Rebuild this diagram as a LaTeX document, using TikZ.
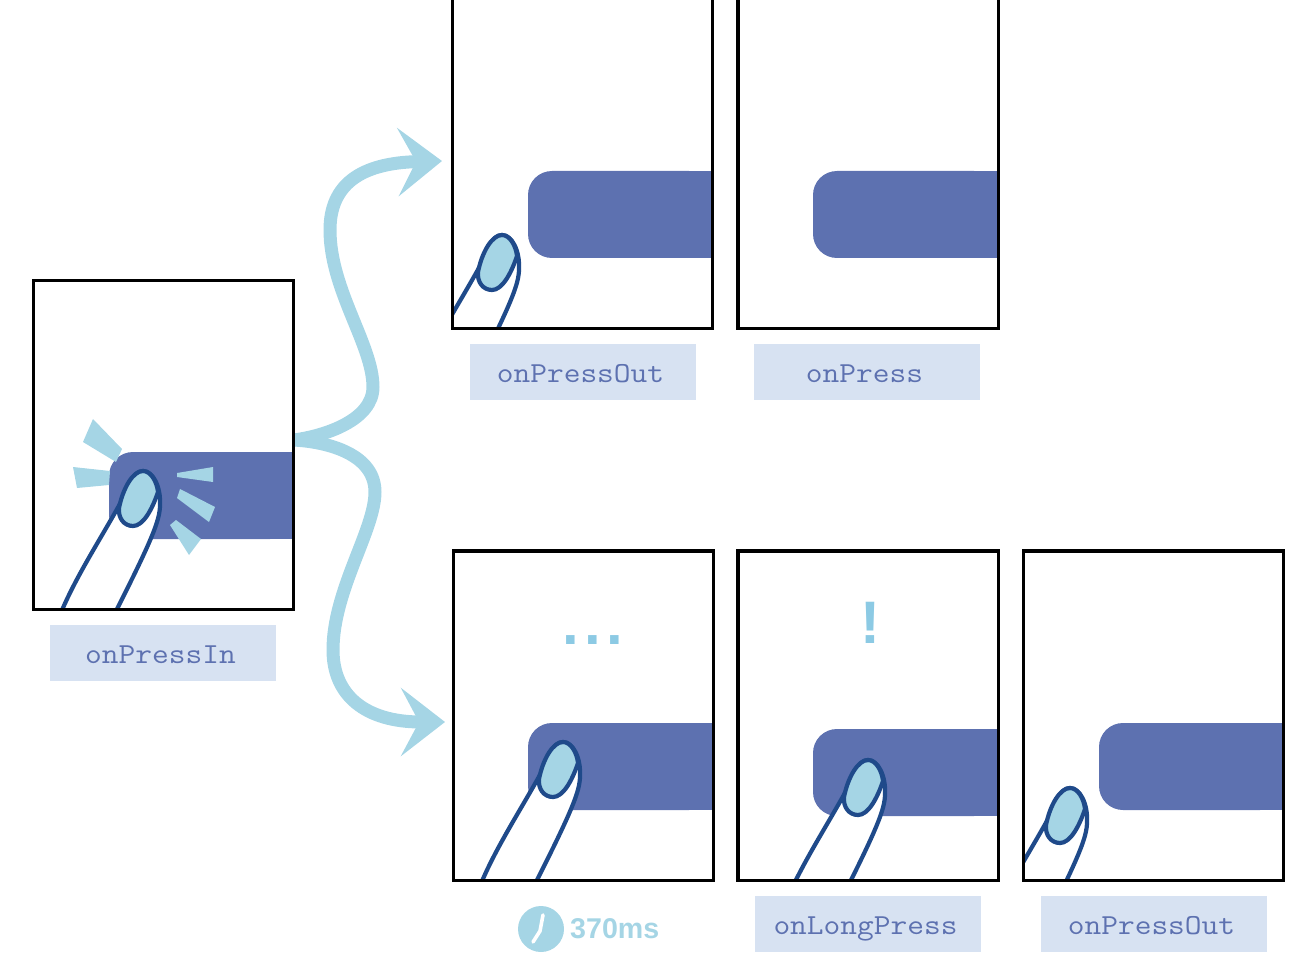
\documentclass[tikz,border=0pt]{standalone}
\usepackage{fontspec}
\setmainfont{Liberation Sans}
\setmonofont{Latin Modern Mono}[FakeStretch=1.12]
\usetikzlibrary{arrows.meta}
\definecolor{btnblue}{HTML}{5D71B0}
\definecolor{skyblue}{HTML}{A5D5E5}
\definecolor{markblue}{HTML}{8CCAE4}
\definecolor{tagblue}{HTML}{D7E2F2}
\definecolor{inkblue}{HTML}{1F4A8A}
\tikzset{
    screen/.style={minimum width=260pt, minimum height=329pt, inner sep=0pt},
    frameline/.style={draw=black, line width=3.4pt},
    tag/.style={fill=tagblue, text=btnblue, minimum width=226pt, minimum height=56pt, inner sep=0pt,
        text height=24pt, text depth=3pt, execute at end node={\hspace{5pt}},
        font=\fontsize{29}{29}\ttfamily},
    signmark/.style={text=markblue, inner sep=0pt, anchor=base, font=\bfseries\fontsize{60}{60}\selectfont},
    flow/.style={draw=skyblue, line width=13pt, -{Stealth[length=44pt,width=68pt,inset=18pt,sharp]}},
    ray/.style={fill=skyblue},
    outline/.style={draw=inkblue, line width=4.2pt, line join=round}
}
% button that runs to the right edge of a screen, x y = its top left corner
\newcommand{\btn}[2]{\fill[btnblue, rounded corners=24pt] (#1+185,#2) -- (#1,#2) -- (#1,#2+87) -- (#1+185,#2+87) -- cycle;
    \fill[btnblue] (#1+90,#2) rectangle (#1+185,#2+87);}
% finger, drawn for the tip at 143,471 and moved by the offset
\newcommand{\finger}[3]{\begin{scope}
    \clip (#1.south west) rectangle (#1.north east);
    \begin{scope}[shift={(#2,#3)}]
    \fill[white] (60,615) .. controls (75,578) and (100,540) .. (121,502)
        .. controls (128,482) and (135,471) .. (143,471)
        .. controls (153,471) and (161,487) .. (160,505)
        .. controls (160,520) and (152,540) .. (114,615) -- cycle;
    \draw[outline] (60,615) .. controls (75,578) and (100,540) .. (121,502)
        .. controls (128,482) and (135,471) .. (143,471)
        .. controls (153,471) and (161,487) .. (160,505)
        .. controls (160,520) and (152,540) .. (114,615);
    \draw[outline, fill=skyblue] (143,471) .. controls (151,471) and (157,482) .. (158,492)
        .. controls (152,510) and (143,526) .. (133,526)
        .. controls (124,526) and (118,518) .. (119,508)
        .. controls (123,488) and (133,471) .. (143,471) -- cycle;
    \end{scope}
\end{scope}}
\begin{document}
\begin{tikzpicture}[x=1pt,y=-1pt]
    \useasboundingbox (0,0) rectangle (1312,960);

    % buttons first, the screens go over them
    \btn{109}{452}
    \btn{528}{171}
    \btn{813}{171}
    \btn{528}{723}
    \btn{813}{729}
    \btn{1099}{723}

    \node[screen] (pressin) at (163.5,445) {};
    \node[screen] (pressout) at (582.5,163.5) {};
    \node[screen] (press) at (868,163.5) {};
    \node[screen] (wait) at (583.5,715.5) {};
    \node[screen] (longpress) at (868,715.5) {};
    \node[screen] (release) at (1153.5,715.5) {};

    % sparks round the touch
    \fill[ray] (93,419) -- (122,449) -- (116,462) -- (83,442) -- cycle;
    \fill[ray] (73,467) -- (110,471) -- (109,485) -- (77,488) -- cycle;
    \fill[ray] (177,473) -- (213,467) -- (213,482) -- (177,477) -- cycle;
    \fill[ray] (180,489) -- (215,507) -- (209,522) -- (177,498) -- cycle;
    \fill[ray] (176,520) -- (201,539) -- (189,555) -- (170,525) -- cycle;

    \finger{pressin}{0}{0}
    \finger{pressout}{359}{-236}
    \finger{wait}{420}{271}
    \finger{longpress}{725}{289}
    \finger{release}{927}{317}

    \coordinate (fork) at ([yshift=5pt]pressin.east);
    \coordinate (topend) at (442,161);
    \coordinate (lowend) at (445,722);
    \draw[flow] (fork) .. controls (325,436) and (373,420) .. (373,387)
        .. controls (373,345) and (330,290) .. (330,230)
        .. controls (330,185) and (360,163) .. (topend);
    \draw[flow] (fork) .. controls (330,442) and (375,455) .. (375,492)
        .. controls (375,530) and (333,590) .. (333,650)
        .. controls (333,695) and (365,722) .. (lowend);

    \foreach \s in {pressin,pressout,press,wait,longpress,release}
        \draw[frameline] (\s.south west) rectangle (\s.north east);

    \node[tag] (tagin) at (163,653) {onPressIn};
    \node[tag] (tagout) at (583,372) {onPressOut};
    \node[tag] (tagpress) at (867,372) {onPress};
    \node[tag] (taglong) at (868,924) {onLongPress};
    \node[tag] (tagrelease) at (1154,924) {onPressOut};

    \node[signmark] (dots) at (593,644) {.\hspace{5.3pt}.\hspace{5.3pt}.};
    \node[signmark] (bang) at (870,643.5) {!};

    % clock
    \node[circle, fill=skyblue, minimum size=46pt, inner sep=0pt] (clock) at (541,929) {};
    \draw[white, line width=3.6pt, line cap=round, line join=round] (543,915) -- (540,931) -- (533,942);
    \node[text=skyblue, font=\bfseries\fontsize{28.6}{29}\selectfont, anchor=west, inner sep=0pt] (timer) at (570,929) {370ms};
\end{tikzpicture}
\end{document}
